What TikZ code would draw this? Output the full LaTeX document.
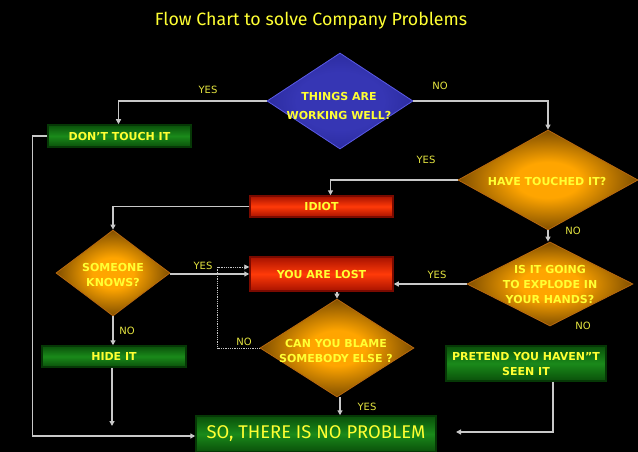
\documentclass[tikz,border=0pt]{standalone}
\usepackage{fontspec}
\setmainfont{DejaVu Sans}
\newfontfamily\firafont{Fira Sans}
\usetikzlibrary{shapes.geometric,arrows.meta,calc}
\definecolor{ytxt}{HTML}{FFFF33}
\definecolor{ltxt}{HTML}{E6E640}
\definecolor{lgray}{HTML}{C8C8C8}
\definecolor{gdark}{HTML}{0A500A}
\definecolor{glight}{HTML}{1A8A1A}
\definecolor{gedge}{HTML}{063806}
\definecolor{rdark}{HTML}{A81200}
\definecolor{rlight}{HTML}{FF3A08}
\definecolor{redge}{HTML}{7A0A00}
\definecolor{dorange}{HTML}{FFA500}
\definecolor{dbrown}{HTML}{2A1400}
\definecolor{dborder}{HTML}{B8680F}
\definecolor{bin}{HTML}{3636B4}
\definecolor{bout}{HTML}{1E1E84}
\definecolor{bborder}{HTML}{5A5AE6}
\pgfdeclareradialshading{diaglow}{\pgfpoint{0bp}{0bp}}{color(0bp)=(dorange); color(9bp)=(dorange); color(36bp)=(dbrown); color(50bp)=(dbrown)}
\pgfdeclareradialshading{blueglow}{\pgfpoint{0bp}{0bp}}{color(0bp)=(bin); color(15bp)=(bin); color(40bp)=(bout); color(50bp)=(bout)}
\newcommand{\boxfont}{\bfseries\fontsize{11}{15}\selectfont}
\newcommand{\lblfont}{\fontsize{10}{12}\selectfont}
\begin{document}
\begin{tikzpicture}[x=1pt,y=-1pt,
  greenbox/.style={rectangle, inner sep=0pt, top color=gdark, bottom color=gdark, middle color=glight, draw=gedge, line width=1.5pt, text=ytxt, font=\boxfont, align=center},
  redbox/.style={rectangle, inner sep=0pt, top color=rdark, bottom color=rdark, middle color=rlight, draw=redge, line width=1.5pt, text=ytxt, font=\boxfont, align=center},
  dia/.style={diamond, inner sep=0pt, shade, shading=diaglow, draw=dborder, line width=0.8pt},
  bluedia/.style={diamond, inner sep=0pt, shade, shading=blueglow, draw=bborder, line width=0.8pt},
  dtxt/.style={text=ytxt, font=\boxfont, align=center, inner sep=0pt},
  lbl/.style={text=ltxt, font=\lblfont, inner sep=0pt},
  arr/.style={draw=lgray, line width=1.2pt, -{Triangle[length=5pt,width=5pt]}},
  dln/.style={draw=lgray, line width=0.8pt, densely dotted, -{Triangle[length=5pt,width=5pt]}}]
\fill[black] (0,0) rectangle (638,452);
\useasboundingbox (0,0) rectangle (638,452);

\node[text=ytxt, font=\firafont\fontsize{17.8}{20}\selectfont, inner sep=0pt] (title) at (311,21) {Flow Chart to solve Company Problems};

% nodes
\node[bluedia, minimum width=146, minimum height=96] (w) at (340,101) {};
\node[dtxt, font=\bfseries\fontsize{11}{19}\selectfont] (wt) at (339,105.5) {THINGS ARE\\WORKING WELL?};
\node[greenbox, minimum width=143, minimum height=22] (dt) at (119.5,136) {DON'T TOUCH IT};
\node[dia, minimum width=180, minimum height=100] (ht) at (548,180) {};
\node[dtxt] (htt) at (547,181) {HAVE TOUCHED IT?};
\node[redbox, minimum width=143, minimum height=21] (idiot) at (321.5,206.5) {IDIOT};
\node[dia, minimum width=114, minimum height=86] (sk) at (113,273) {};
\node[dtxt] (skt) at (113,274.5) {SOMEONE\\KNOWS?};
\node[redbox, minimum width=143, minimum height=34] (lost) at (321.5,274) {YOU ARE LOST};
\node[dia, minimum width=166, minimum height=84] (ig) at (550,284) {};
\node[dtxt] (igt) at (550,284.5) {IS IT GOING\\TO EXPLODE IN\\YOUR HANDS?};
\node[dia, minimum width=154, minimum height=98] (cb) at (337,348) {};
\node[dtxt] (cbt) at (336,350.5) {CAN YOU BLAME\\SOMEBODY ELSE ?};
\node[greenbox, minimum width=144, minimum height=21] (hide) at (114,356.5) {HIDE IT};
\node[greenbox, minimum width=160, minimum height=35] (pr) at (526,363.5) {PRETEND YOU HAVEN"T\\SEEN IT};
\node[greenbox, minimum width=240, minimum height=36, font=\firafont\fontsize{18.4}{20}\selectfont] (so) at (316,434) {SO, THERE IS NO PROBLEM};

% connectors
\draw[arr] (w.west) -| ([xshift=-1]dt.north);
\draw[arr] (w.east) -| (ht.north);
\draw[arr] (dt.west) -- ++(-15,0) |- ([yshift=-2]so.west);
\draw[arr] (ht.west) -| ([xshift=9]idiot.north);
\draw[arr] (idiot.west) -| (sk.north);
\draw[arr] (ht.south) -- (ht.south |- ig.north);
\draw[arr] (ig.west) -- (ig.west -| lost.east);
\draw[arr] ([yshift=-1]sk.east) -- ([yshift=-1]sk.east -| lost.west);
\draw[arr] (sk.south) -- (sk.south |- hide.north);
\draw[arr] (cb.north |- lost.south) -- (cb.north);
\draw[dln] (cb.west) -- ++(-42,0) |- ([yshift=7]lost.west);
\draw[arr] ([xshift=3]cb.south) -- ([xshift=3]cb.south |- so.north);
\coordinate (hideend) at (112,426);
\draw[arr] (hide.south -| hideend) -- (hideend);
\coordinate (prend) at (456,432);
\draw[arr] (pr.south -| 553,0) |- (prend);

% labels
\node[lbl] (l1) at (208,90) {YES};
\node[lbl] (l2) at (440,86) {NO};
\node[lbl] (l3) at (426,160) {YES};
\node[lbl] (l4) at (573,231) {NO};
\node[lbl] (l5) at (203,266) {YES};
\node[lbl] (l6) at (437,275) {YES};
\node[lbl] (l7) at (127,331) {NO};
\node[lbl] (l8) at (244,342) {NO};
\node[lbl] (l9) at (583,326) {NO};
\node[lbl] (l10) at (367,407) {YES};
\end{tikzpicture}
\end{document}
